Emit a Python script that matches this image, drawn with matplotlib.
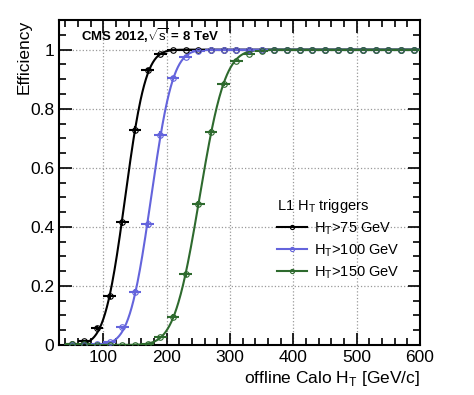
import math
import numpy as np
import matplotlib
matplotlib.use('Agg')
import matplotlib.pyplot as plt
from matplotlib.ticker import MultipleLocator

# bin centres (20 GeV bins) and measured efficiencies
ht = np.arange(50, 600, 20)

eff_75 = [0.002, 0.014, 0.058, 0.166, 0.415, 0.729, 0.930, 0.986, 0.998, 1.0,
          1.0, 1.0, 1.0, 1.0, 1.0, 1.0, 1.0, 1.0, 1.0, 1.0,
          1.0, 1.0, 1.0, 1.0, 1.0, 1.0, 1.0, 1.0]
eff_100 = [0.0, 0.0, 0.003, 0.011, 0.060, 0.180, 0.410, 0.712, 0.905, 0.975,
           0.996, 0.999, 1.0, 1.0, 1.0, 1.0, 1.0, 1.0, 1.0, 1.0,
           1.0, 1.0, 1.0, 1.0, 1.0, 1.0, 1.0, 1.0]
eff_150 = [0.002, 0.002, 0.0, 0.0, 0.0, 0.001, 0.005, 0.028, 0.096, 0.240,
           0.476, 0.721, 0.885, 0.962, 0.986, 0.996, 1.0, 1.0, 1.0, 1.0,
           1.0, 1.0, 1.0, 1.0, 1.0, 1.0, 1.0, 1.0]

labels = [r'H$_{\rm T}$>75 GeV', r'H$_{\rm T}$>100 GeV', r'H$_{\rm T}$>150 GeV']
colors = ['black', '#6464dc', '#2e6a2e']

_erf = np.vectorize(math.erf)


def turnon(x, mu, sigma):
  return 0.5 * (1 + _erf((x - mu) / (math.sqrt(2) * sigma)))


def fit_turnon(x, y):
  # crude grid search for the erf turn-on
  best = None
  for mu in np.arange(50, 350, 0.5):
    for sigma in np.arange(5, 60, 0.5):
      chi2 = np.sum((turnon(x, mu, sigma) - y) ** 2)
      if best is None or chi2 < best[0]:
        best = (chi2, mu, sigma)
  return best[1], best[2]


plt.rcParams['font.family'] = ['Liberation Sans', 'DejaVu Sans']
plt.rcParams['mathtext.fontset'] = 'custom'
plt.rcParams['mathtext.rm'] = 'Liberation Sans'

fig = plt.figure(figsize=(4.74, 3.95), dpi=100)
ax = fig.add_axes([0.1245, 0.1266, 0.7615, 0.8224])

xfit = np.linspace(40, 600, 600)
for eff, lab, col in zip([eff_75, eff_100, eff_150], labels, colors):
  eff = np.asarray(eff)
  yerr = 0.025 * np.sqrt(eff * (1 - eff))
  mu, sigma = fit_turnon(ht, eff)
  ax.plot(xfit, turnon(xfit, mu, sigma), color=col, lw=1.5, zorder=3)
  ax.errorbar(ht, eff, xerr=10, yerr=yerr, fmt='o', color=col, mfc='none',
              ms=4, mew=0.8, elinewidth=1.5, capsize=0, zorder=4)
  ax.plot([], [], color=col, lw=1.5, marker='o', ms=3, mfc='none',
          mew=0.8, label=lab)

ax.set_xlim(30, 600)
ax.set_ylim(0, 1.1)
ax.xaxis.set_major_locator(MultipleLocator(100))
ax.xaxis.set_minor_locator(MultipleLocator(20))
ax.yaxis.set_major_locator(MultipleLocator(0.2))
ax.yaxis.set_minor_locator(MultipleLocator(0.05))
ax.set_yticks([0, 0.2, 0.4, 0.6, 0.8, 1.0])
ax.set_yticklabels(['0', '0.2', '0.4', '0.6', '0.8', '1'])
ax.tick_params(which='both', direction='in', top=True, right=True,
               labelsize=12.5, width=1.2)
ax.tick_params(which='major', length=9)
ax.tick_params(which='minor', length=5)
ax.grid(True, which='major', color='0.6', linestyle=':', linewidth=0.9)
for s in ax.spines.values():
  s.set_linewidth(1.5)

ax.set_ylabel('Efficiency', fontsize=12.5, loc='top')
ax.yaxis.set_label_coords(-0.075, 1.0)
ax.set_xlabel(r'offline Calo H$_{\rm T}$ [GeV/c]', fontsize=12.5, loc='right',
              labelpad=3)

ax.text(0.061, 0.951, r'CMS 2012,$\sqrt{\rm s}$ = 8 TeV', transform=ax.transAxes,
        fontsize=9.5, fontweight='bold', va='center', ha='left')

leg = ax.legend(loc='upper left', bbox_to_anchor=(270 / 474, 1 - 190 / 395),
                bbox_transform=fig.transFigure, frameon=False, fontsize=10.5,
                title=r'L1 H$_{\rm T}$ triggers', title_fontsize=10.5,
                alignment='left', handlelength=2.05, handletextpad=0.5,
                labelspacing=0.35, borderpad=0)

fig.savefig('out.png', dpi=100)
